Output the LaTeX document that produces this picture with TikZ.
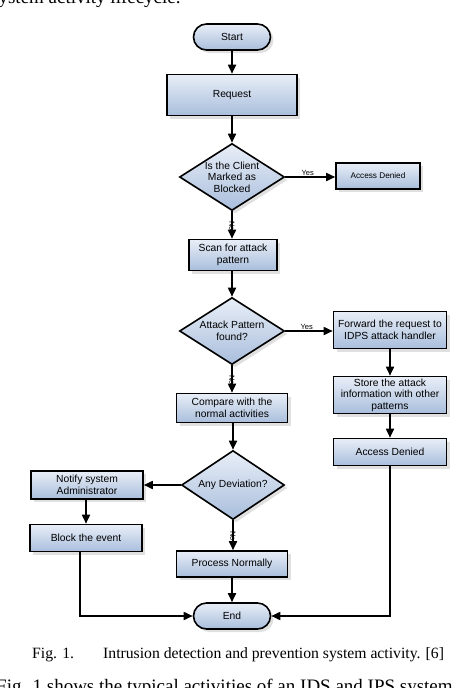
\documentclass[tikz,border=0pt]{standalone}
\usepackage{fontspec}
\setmainfont{Liberation Serif}
\newfontfamily\arialf{Liberation Sans}
\usetikzlibrary{shapes.geometric,shapes.misc,shadows,arrows.meta}
\definecolor{boxtop}{HTML}{E8EEF7}
\definecolor{boxbot}{HTML}{A9BEDC}
\begin{document}
\begin{tikzpicture}[x=1pt,y=-1pt,
  base/.style={draw=black, line width=1.6pt, top color=boxtop, bottom color=boxbot,
    drop shadow={shadow xshift=3pt, shadow yshift=-3pt, fill=black!30, opacity=0.4},
    font=\arialf\fontsize{10.3}{11.5}\selectfont, align=center, inner sep=0pt},
  procbox/.style={base, rectangle},
  term/.style={base, rounded rectangle, minimum width=77pt, minimum height=26pt},
  dec/.style={base, diamond, aspect=1.57, minimum width=105pt, minimum height=67pt},
  arr/.style={line width=1.7pt, -{Triangle[length=9pt,width=8pt]}},
  lbl/.style={font=\arialf\fontsize{7.5}{8}\selectfont, inner sep=1pt},
  nolbl/.style={lbl, rotate=-90}
]
\useasboundingbox (0,0) rectangle (474,688);
\clip (0,0) rectangle (474,688);
\fill[white] (0,0) rectangle (474,688);

% surrounding text
\node[anchor=base west, inner sep=0pt, font=\fontsize{19}{22}\selectfont] (toptext) at (-9,3) {system activity lifecycle.};
\node[anchor=base west, inner sep=0pt, font=\fontsize{15.7}{18}\selectfont] (figno) at (32,658) {Fig. 1.};
\node[anchor=base west, inner sep=0pt, font=\fontsize{15.7}{18}\selectfont] (caption) at (103,658) {Intrusion detection and prevention system activity. [6]};
\node[anchor=base west, inner sep=0pt, font=\fontsize{19}{22}\selectfont] (bottomtext) at (-4,692) {Fig. 1 shows the typical activities of an IDS and IPS system};

% nodes
\node[term] (start) at (232,37) {Start};
\node[procbox, minimum width=130pt, minimum height=41pt] (req) at (232,95) {Request};
\node[dec] (d1) at (232,177) {Is the Client\\Marked as\\Blocked};
\node[procbox, minimum width=84pt, minimum height=26pt, font=\arialf\fontsize{8.2}{9}\selectfont] (ad1) at (378,176) {Access Denied};
\node[procbox, minimum width=88pt, minimum height=31pt] (scan) at (233,255) {Scan for attack\\pattern};
\node[dec] (d2) at (232,331) {Attack Pattern\\found?};
\node[procbox, minimum width=113pt, minimum height=37pt] (fwd) at (390,330) {Forward the request to\\IDPS attack handler};
\node[procbox, minimum width=113pt, minimum height=37pt] (store) at (390,395) {Store the attack\\information with other\\patterns};
\node[procbox, minimum width=113pt, minimum height=27pt] (ad2) at (390,452) {Access Denied};
\node[procbox, minimum width=111pt, minimum height=29pt] (cmp) at (232,408) {Compare with the\\normal activities};
\node[dec, minimum height=69pt, minimum width=103pt] (d3) at (233,485) {Any Deviation?};
\node[procbox, minimum width=112pt, minimum height=28pt] (notify) at (87,485) {Notify system\\Administrator};
\node[procbox, minimum width=112pt, minimum height=27pt] (block) at (86,538) {Block the event};
\node[procbox, minimum width=111pt, minimum height=26pt] (pn) at (232,564) {Process Normally};
\node[term] (end) at (232,616) {End};

\coordinate (lc) at (80,616);
\coordinate (rc) at (390,616);

% connectors
\draw[arr] (start) -- (req);
\draw[arr] (req) -- (d1);
\draw[arr] (d1.east) -- node[lbl, above, pos=0.45] {Yes} (ad1.west |- d1.east);
\draw[arr] (d1.south) -- node[nolbl, pos=0.4, xshift=4pt] {No} (scan.north -| d1.south);
\draw[arr] (scan.south -| d2.north) -- (d2.north);
\draw[arr] (d2.east) -- node[lbl, above, pos=0.45] {Yes} (fwd.west |- d2.east);
\draw[arr] (d2.south) -- node[nolbl, pos=0.4, xshift=4pt] {No} (cmp.north -| d2.south);
\draw[arr] (fwd) -- (store);
\draw[arr] (store) -- (ad2);
\draw[arr] (cmp.south -| d3.north) -- (d3.north);
\draw[arr] (d3.west) -- (notify.east |- d3.west);
\draw[arr] (d3.south) -- node[nolbl, pos=0.4, xshift=4pt] {No} (pn.north -| d3.south);
\draw[arr] (notify.south -| block.north) -- (block.north);
\draw[arr] (pn.south -| end.north) -- (end.north);
\draw[arr] (block.south -| lc) -- (lc) -- (end.west);
\draw[arr] (ad2.south) -- (rc) -- (end.east);
\end{tikzpicture}
\end{document}
